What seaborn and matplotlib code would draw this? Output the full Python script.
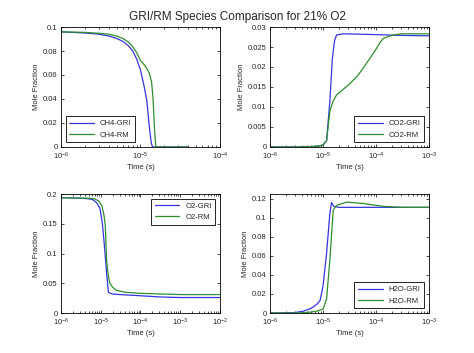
import matplotlib
matplotlib.use("Agg")
import matplotlib.pyplot as plt
import seaborn as sns
import pandas as pd

# ---------------------------------------------------------------------------
# data (time in s, mole fraction)
# ---------------------------------------------------------------------------
ch4_gri_t = [1e-6, 2e-6, 3e-6, 4e-6, 5e-6, 6e-6, 7e-6, 8e-6, 9e-6, 1e-5, 1.1e-5, 1.2e-5, 1.3e-5, 1.37e-5, 1.42e-5, 2e-5, 4e-5]
ch4_gri_y = [0.096, 0.0950, 0.0940, 0.0925, 0.0905, 0.0880, 0.0845, 0.0800, 0.0730, 0.0640, 0.0520, 0.0390, 0.0150, 0.0030, 0.0, 0.0, 0.0]
ch4_rm_t = [1e-6, 2e-6, 3e-6, 4e-6, 5e-6, 6e-6, 7e-6, 8e-6, 9e-6, 1e-5, 1.1e-5, 1.2e-5, 1.3e-5, 1.38e-5, 1.44e-5, 1.5e-5, 1.56e-5, 2e-5, 4e-5]
ch4_rm_y = [0.096, 0.0955, 0.0948, 0.0940, 0.0925, 0.0905, 0.0875, 0.0835, 0.0785, 0.0720, 0.0690, 0.0655, 0.0610, 0.0540, 0.0400, 0.0150, 0.0, 0.0, 0.0]

co2_gri_t = [1e-6, 3e-6, 6e-6, 8e-6, 1e-5, 1.17e-5, 1.35e-5, 1.5e-5, 1.65e-5, 1.8e-5, 2.4e-5, 5e-5, 1e-4, 3e-4, 1e-3]
co2_gri_y = [0.0, 0.0, 0.0001, 0.0002, 0.0005, 0.0016, 0.0115, 0.0220, 0.0265, 0.0280, 0.0283, 0.0282, 0.0281, 0.0279, 0.0278]
co2_rm_t = [1e-6, 3e-6, 6e-6, 8e-6, 1e-5, 1.17e-5, 1.35e-5, 1.56e-5, 1.8e-5, 2.5e-5, 3.2e-5, 4.5e-5, 5.8e-5, 8e-5, 1.03e-4, 1.2e-4, 1.4e-4, 2.1e-4, 3e-4, 1e-3]
co2_rm_y = [0.0, 0.0, 0.0001, 0.0002, 0.0005, 0.0016, 0.0090, 0.0115, 0.0130, 0.0146, 0.0158, 0.0178, 0.0198, 0.0225, 0.0247, 0.0262, 0.0272, 0.0280, 0.0283, 0.0283]

o2_gri_t = [1e-6, 3e-6, 5e-6, 6.5e-6, 8e-6, 9.6e-6, 1.1e-5, 1.25e-5, 1.4e-5, 1.56e-5, 1.9e-5, 3e-5, 1e-4, 3e-4, 1e-3, 1e-2]
o2_gri_y = [0.194, 0.193, 0.192, 0.190, 0.185, 0.175, 0.150, 0.110, 0.068, 0.035, 0.032, 0.031, 0.029, 0.027, 0.026, 0.026]
o2_rm_t = [1e-6, 3e-6, 5e-6, 7e-6, 9e-6, 1.07e-5, 1.2e-5, 1.3e-5, 1.4e-5, 1.55e-5, 1.7e-5, 2e-5, 2.5e-5, 4e-5, 1e-4, 1e-3, 1e-2]
o2_rm_y = [0.194, 0.193, 0.193, 0.192, 0.188, 0.180, 0.165, 0.147, 0.090, 0.062, 0.050, 0.043, 0.038, 0.035, 0.033, 0.031, 0.031]

h2o_gri_t = [1e-6, 2e-6, 3e-6, 4.3e-6, 6e-6, 7.6e-6, 8.8e-6, 1e-5, 1.17e-5, 1.35e-5, 1.45e-5, 1.6e-5, 2e-5, 1e-4, 1e-3]
h2o_gri_y = [0.0, 0.0002, 0.0005, 0.0020, 0.0050, 0.0090, 0.0130, 0.0280, 0.0630, 0.1050, 0.1160, 0.1120, 0.1110, 0.1110, 0.1110]
h2o_rm_t = [1e-6, 3e-6, 4e-6, 6e-6, 7.6e-6, 1e-5, 1.17e-5, 1.35e-5, 1.56e-5, 1.8e-5, 2.8e-5, 5.8e-5, 1.4e-4, 3e-4, 1e-3]
h2o_rm_y = [0.0, 0.0, 0.0003, 0.0010, 0.0020, 0.0040, 0.0150, 0.0560, 0.1080, 0.1130, 0.1165, 0.1150, 0.1120, 0.1110, 0.1110]

panels = [
    # species, gri, rm, xlim, ylim, yticks, legend loc
    ("CH4", (ch4_gri_t, ch4_gri_y), (ch4_rm_t, ch4_rm_y), (1e-6, 1e-4), (0, 0.1),
     [0, 0.02, 0.04, 0.06, 0.08, 0.1], "lower left"),
    ("CO2", (co2_gri_t, co2_gri_y), (co2_rm_t, co2_rm_y), (1e-6, 1e-3), (0, 0.03),
     [0, 0.005, 0.01, 0.015, 0.02, 0.025, 0.03], "lower right"),
    ("O2", (o2_gri_t, o2_gri_y), (o2_rm_t, o2_rm_y), (1e-6, 1e-2), (0, 0.2),
     [0, 0.05, 0.1, 0.15, 0.2], "upper right"),
    ("H2O", (h2o_gri_t, h2o_gri_y), (h2o_rm_t, h2o_rm_y), (1e-6, 1e-3), (0, 0.125),
     [0, 0.02, 0.04, 0.06, 0.08, 0.1, 0.12], "lower right"),
]

sns.set_style("white")
plt.rcParams["font.family"] = ["Liberation Sans", "DejaVu Sans"]
plt.rcParams["mathtext.fontset"] = "custom"
plt.rcParams["mathtext.rm"] = "Liberation Sans"
plt.rcParams["axes.edgecolor"] = "black"
plt.rcParams["axes.linewidth"] = 0.6

fig = plt.figure(figsize=(4.74, 3.53), dpi=100)
fig.patch.set_facecolor("white")

# axes rectangles in figure fractions, matching the MATLAB subplot layout
rects = [
    (0.1287, 0.5836, 0.3354, 0.3399),
    (0.5696, 0.5836, 0.3354, 0.3399),
    (0.1287, 0.1133, 0.3354, 0.3371),
    (0.5696, 0.1133, 0.3354, 0.3371),
]

colors = {"GRI": "#3535e0", "RM": "#2e8f2e"}

for rect, (sp, gri, rm, xlim, ylim, yticks, loc) in zip(rects, panels):
    ax = fig.add_axes(rect)
    df = pd.concat([
        pd.DataFrame({"t": gri[0], "x": gri[1], "label": f"{sp}-GRI"}),
        pd.DataFrame({"t": rm[0], "x": rm[1], "label": f"{sp}-RM"}),
    ])
    sns.lineplot(data=df, x="t", y="x", hue="label", ax=ax, sort=False,
                 palette=[colors["GRI"], colors["RM"]], linewidth=0.9)
    ax.set_xscale("log")
    ax.set_xlim(*xlim)
    ax.set_ylim(*ylim)
    ax.set_yticks(yticks)
    ax.set_yticklabels([f"{v:g}" for v in yticks])
    ax.set_xlabel("Time (s)", fontsize=5.5, labelpad=1)
    ax.set_ylabel("Mole Fraction", fontsize=5.5, labelpad=2)
    ax.tick_params(which="both", direction="in", bottom=True, left=True,
                   top=True, right=True, labelsize=5.5, width=0.5,
                   color="black")
    ax.tick_params(axis="x", which="both", pad=2.8)
    ax.tick_params(axis="y", which="both", pad=2.4)
    ax.tick_params(which="major", length=2.5)
    ax.tick_params(which="minor", length=1.5)
    leg = ax.legend(loc=loc, fontsize=5.5, handlelength=3.2, fancybox=False,
                    edgecolor="black", framealpha=1, borderpad=0.5,
                    labelspacing=0.5, borderaxespad=0.6)
    leg.get_frame().set_linewidth(0.6)
    leg.set_title(None)

fig.suptitle("GRI/RM Species Comparison for 21% O2", fontsize=8.5, y=0.97)
fig.savefig("out.png", dpi=100, facecolor="white")
